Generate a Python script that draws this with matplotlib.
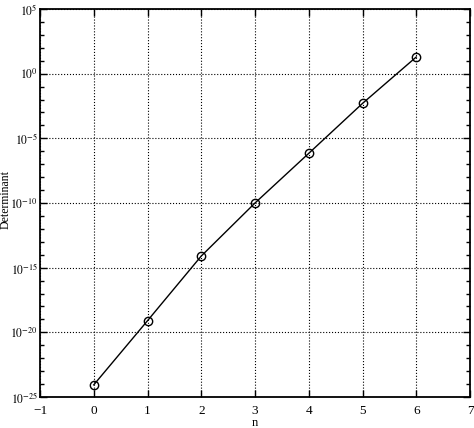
import numpy as np
import matplotlib
matplotlib.use('Agg')
import matplotlib.pyplot as plt
from matplotlib.ticker import FixedLocator, FuncFormatter, NullFormatter

# data (log10 of the determinant)
n = [0, 1, 2, 3, 4, 5, 6]
log_det = [-24.06, -19.1, -14.1, -10.0, -6.16, -2.3, 1.29]
det = [10.0**v for v in log_det]

yticks = [1e-25, 1e-20, 1e-15, 1e-10, 1e-5, 1e0, 1e5]
xticks = [-1, 0, 1, 2, 3, 4, 5, 6, 7]

plt.rcParams['font.family'] = 'serif'
plt.rcParams['font.serif'] = ['Liberation Serif', 'DejaVu Serif']
plt.rcParams['mathtext.fontset'] = 'stix'

fig = plt.figure(figsize=(4.74, 4.28), dpi=100)
ax = fig.add_axes([0.0844, 0.0724, 0.9072, 0.9066])

ax.semilogy(n, det, 'k-', lw=1.0, marker='o', mfc='none', mec='k', ms=6, mew=1.0)

ax.set_xlim(-1, 7)
ax.set_ylim(1e-25, 1e5)
ax.set_xticks(xticks)
ax.yaxis.set_major_locator(FixedLocator(yticks))
ax.yaxis.set_minor_locator(FixedLocator([10.0**k for k in range(-25, 6)]))
ax.yaxis.set_major_formatter(FuncFormatter(lambda v, p: r'$10^{%d}$' % round(np.log10(v))))
ax.yaxis.set_minor_formatter(NullFormatter())

ax.grid(True, which='major', linestyle=':', color='k', lw=0.8)
ax.tick_params(which='both', direction='in', top=True, right=True, labelsize=9.5, width=1.0)
ax.tick_params(axis='y', labelsize=8.5, pad=1.5)
ax.tick_params(which='major', length=5)
ax.tick_params(which='minor', length=3)
ax.tick_params(axis='x', pad=6)
for s in ax.spines.values():
    s.set_linewidth(1.3)

ax.set_xlabel('n', fontsize=9, labelpad=0)
ax.set_ylabel('Determinant', fontsize=8.5, va='center')
ax.yaxis.set_label_coords(-0.08, 0.51)

fig.savefig('out.png', dpi=100)
